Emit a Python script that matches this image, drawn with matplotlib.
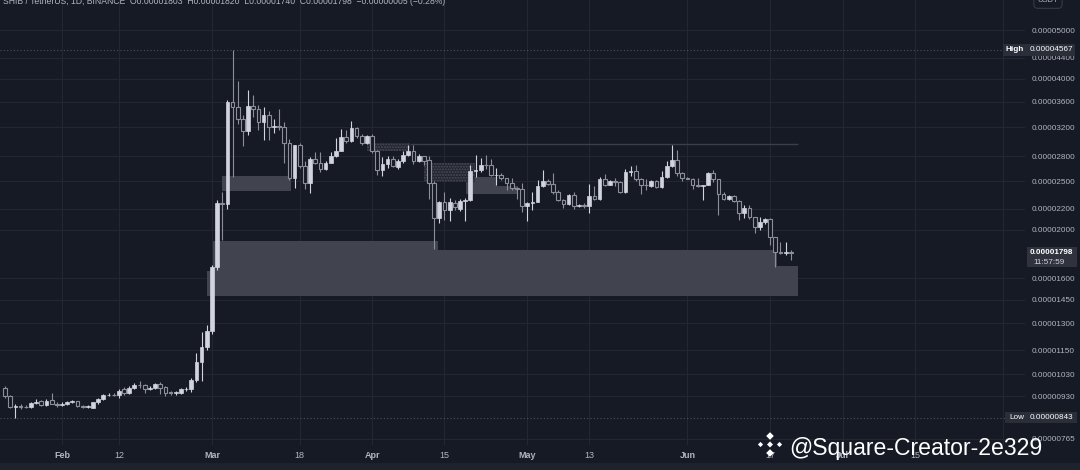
import numpy as np
import pandas as pd
import matplotlib
matplotlib.use("Agg")
import matplotlib.pyplot as plt
from matplotlib.patches import Rectangle, Polygon
from matplotlib.ticker import NullLocator

# ---- data (prices in units of 1e-8 USDT) ----
START = "2024-01-21"
UNIT = 1e-8

opens = [966, 930, 885, 889, 887, 884, 902, 910, 893, 916,
         900, 895, 900, 905, 910, 888, 886, 883, 905, 920,
         935, 938, 935, 961, 945, 968, 980, 982, 962, 967,
         985, 970, 947, 945, 945, 960, 963, 1002, 1088, 1166,
         1255, 1683, 2259, 2250, 3590, 3505, 3318, 3145, 3527, 3480,
         3280, 3385, 3205, 3215, 3210, 2980, 2537, 2948, 2676, 2480,
         2772, 2718, 2647, 2717, 2803, 2869, 3053, 3003, 3190, 3072,
         2972, 3072, 2869, 2629, 2700, 2772, 2668, 2739, 2816, 2873,
         2742, 2803, 2752, 2473, 2105, 2266, 2188, 2260, 2200, 2280,
         2290, 2617, 2629, 2690, 2688, 2570, 2575, 2530, 2480, 2418,
         2405, 2230, 2255, 2275, 2442, 2503, 2465, 2380, 2290, 2245,
         2340, 2225, 2240, 2228, 2330, 2300, 2522, 2455, 2503, 2490,
         2380, 2608, 2612, 2525, 2455, 2440, 2503, 2430, 2550, 2676,
         2752, 2590, 2540, 2525, 2460, 2445, 2455, 2595, 2520, 2360,
         2300, 2330, 2282, 2155, 2212, 2115, 2025, 2070, 2096, 1929,
         1807, 1800, 1803]
highs = [975, 935, 900, 898, 895, 908, 920, 915, 918, 945,
         905, 906, 910, 915, 912, 895, 892, 908, 925, 940,
         945, 946, 960, 970, 975, 990, 997, 985, 975, 990,
         995, 975, 955, 952, 965, 970, 1010, 1135, 1250, 1290,
         1700, 2290, 2375, 3620, 4567, 3960, 3385, 3796, 3710, 3545,
         3510, 3450, 3330, 3480, 3280, 3030, 2950, 2975, 2740, 2790,
         2860, 2860, 2735, 2860, 3045, 3175, 3160, 3300, 3210, 3100,
         3090, 3100, 2880, 2790, 2800, 2800, 2760, 2870, 2948, 2948,
         2830, 2810, 2800, 2500, 2280, 2380, 2310, 2290, 2300, 2310,
         2690, 2816, 2780, 2816, 2770, 2650, 2590, 2540, 2535, 2430,
         2473, 2270, 2380, 2510, 2629, 2520, 2590, 2395, 2300, 2350,
         2375, 2250, 2260, 2467, 2442, 2552, 2580, 2515, 2540, 2495,
         2640, 2680, 2690, 2540, 2520, 2515, 2510, 2617, 2740, 2948,
         2882, 2600, 2545, 2530, 2530, 2460, 2610, 2630, 2525, 2375,
         2340, 2340, 2290, 2240, 2240, 2120, 2120, 2110, 2110, 1935,
         1890, 1890, 1820]
lows = [925, 880, 843, 878, 880, 880, 898, 890, 890, 900,
        885, 890, 896, 902, 885, 882, 880, 880, 900, 915,
        930, 930, 925, 935, 940, 962, 965, 945, 958, 962,
        940, 930, 935, 935, 940, 952, 950, 995, 1000, 1150,
        1240, 1661, 1906, 2200, 2550, 3250, 2935, 3087, 3350, 3159,
        3017, 3017, 3120, 3160, 2712, 2510, 2420, 2650, 2410, 2370,
        2700, 2600, 2630, 2710, 2790, 2865, 2980, 2990, 3040, 2950,
        2960, 2840, 2570, 2560, 2650, 2660, 2640, 2720, 2800, 2700,
        2730, 2690, 2300, 1833, 2060, 2095, 2080, 2190, 2180, 2085,
        2280, 2550, 2600, 2640, 2560, 2460, 2510, 2398, 2400, 2300,
        2170, 2080, 2190, 2270, 2430, 2450, 2360, 2280, 2210, 2240,
        2200, 2215, 2205, 2160, 2290, 2290, 2440, 2450, 2440, 2370,
        2370, 2560, 2500, 2350, 2400, 2430, 2420, 2420, 2540, 2660,
        2560, 2500, 2520, 2410, 2430, 2290, 2450, 2490, 2138, 2290,
        2290, 2270, 2090, 2110, 2100, 1970, 2000, 2050, 1861, 1687,
        1790, 1780, 1740]
closes = [930, 885, 889, 887, 886, 902, 907, 893, 912, 900,
          895, 900, 905, 910, 888, 887, 888, 905, 920, 935,
          938, 936, 955, 945, 968, 982, 978, 960, 968, 985,
          967, 945, 945, 946, 960, 963, 1002, 1088, 1166, 1255,
          1683, 2259, 2250, 3590, 3505, 3318, 3145, 3527, 3480, 3280,
          3385, 3205, 3225, 3210, 2980, 2537, 2948, 2676, 2480, 2772,
          2718, 2647, 2717, 2803, 2869, 3053, 3003, 3190, 3072, 2972,
          3072, 2869, 2629, 2700, 2772, 2676, 2739, 2816, 2873, 2742,
          2803, 2742, 2473, 2105, 2266, 2188, 2266, 2215, 2280, 2290,
          2617, 2629, 2690, 2688, 2570, 2575, 2530, 2473, 2418, 2405,
          2230, 2255, 2275, 2442, 2503, 2465, 2380, 2290, 2245, 2340,
          2225, 2240, 2228, 2330, 2300, 2522, 2455, 2503, 2490, 2380,
          2608, 2612, 2525, 2455, 2450, 2503, 2430, 2550, 2676, 2752,
          2590, 2540, 2525, 2460, 2445, 2455, 2595, 2520, 2360, 2300,
          2330, 2282, 2155, 2212, 2115, 2025, 2070, 2096, 1929, 1807,
          1800, 1803, 1798]

tick_dates = ["2024-02-01", "2024-02-12", "2024-03-01", "2024-03-18",
              "2024-04-01", "2024-04-15", "2024-05-01", "2024-05-13",
              "2024-06-01", "2024-06-17", "2024-07-01", "2024-07-15",
              "2024-08-01"]
tick_labels = ["Feb", "12", "Mar", "18", "Apr", "15", "May", "13",
               "Jun", "17", "Jul", "15", ""]
month_labels = {"Feb", "Mar", "Apr", "May", "Jun", "Jul"}

price_ticks = [5000, 4400, 4000, 3600, 3200, 2800, 2500, 2200, 2000,
               1600, 1450, 1300, 1150, 1030, 930, 765]

# zones: (start day, end day, low, high) -- day index from START
solid_zones = [(39.0, 40.2, 1474, 1653),
               (40.2, 83.8, 1474, 1897),
               (83.8, 149.3, 1474, 1821),
               (149.3, 153.4, 1474, 1691),
               (42.0, 55.3, 2387, 2557),
               (89.2, 95.2, 2354, 2545),
               (95.2, 99.2, 2354, 2442)]
dotted_zones = [(70.0, 78.3, 2869, 2976),
                (81.0, 90.9, 2488, 2714)]
level_line = (78.3, 153.4, 2963)

HIGH = 4567
LOW = 843
LAST = 1798
header = ("SHIB / TetherUS, 1D, BINANCE  O0.00001803  H0.00001820  "
          "L0.00001740  C0.00001798  \u22120.00000005 (\u22120.28%)")

# ---- style ----
BG = "#161a25"
BULL = "#d1d4dc"
BEAR = "#8c8f99"
TXT = "#b2b5be"
ZONE = "#41434e"
plt.rcParams["font.family"] = ["Liberation Sans", "DejaVu Sans"]

W, H = 1080, 470
fig = plt.figure(figsize=(W / 100, H / 100), dpi=100)
fig.patch.set_facecolor(BG)
ax = fig.add_axes([0, 25 / H, 1025 / W, 445 / H])
ax.set_facecolor(BG)
for s in ax.spines.values():
    s.set_visible(False)

o = np.array(opens) * UNIT
h = np.array(highs) * UNIT
l = np.array(lows) * UNIT
c = np.array(closes) * UNIT
x = np.arange(len(o))
up = c >= o

ax.set_yscale("log")
ax.set_ylim(744e-8, 5739e-8)
ax.set_xlim(-0.99, 197.3)

# zones
for x0, x1, lo, hi in solid_zones:
    ax.add_patch(Rectangle((x0, lo * UNIT), x1 - x0, (hi - lo) * UNIT,
                           facecolor=ZONE, edgecolor="none", zorder=1))
for x0, x1, lo, hi in dotted_zones:
    ax.add_patch(Rectangle((x0, lo * UNIT), x1 - x0, (hi - lo) * UNIT,
                           facecolor="#232631", edgecolor="#4a4d58",
                           hatch="......", lw=0, zorder=1))
ax.hlines(level_line[2] * UNIT, level_line[0], level_line[1],
          color="#3b3e49", lw=1.0, zorder=1)

# high / low dotted lines
for lvl in (HIGH, LOW):
    ax.axhline(lvl * UNIT, color="#4f525d", lw=0.8, ls=(0, (1, 2)), zorder=1)

# candles
ax.vlines(x[up], l[up], h[up], color=BULL, lw=0.8, zorder=3)
ax.vlines(x[~up], l[~up], h[~up], color=BEAR, lw=0.8, zorder=3)
bottom = np.minimum(o, c)
height = np.maximum(np.abs(c - o), bottom * 0.002)
ax.bar(x[up], height[up], bottom=bottom[up], width=0.72, color=BULL,
       edgecolor=BULL, lw=0.5, zorder=4)
ax.bar(x[~up], height[~up], bottom=bottom[~up], width=0.72, color=BG,
       edgecolor=BEAR, lw=0.8, zorder=4)

# axes / ticks
start = pd.Timestamp(START)
tick_idx = [(pd.Timestamp(d) - start).days for d in tick_dates]
ax.set_xticks(tick_idx)
ax.set_xticklabels(tick_labels)
for lab in ax.get_xticklabels():
    if lab.get_text() in month_labels:
        lab.set_fontweight("bold")
ax.tick_params(axis="x", length=0, pad=4, labelsize=6.5, labelcolor=TXT)

ax.yaxis.tick_right()
ax.set_yticks([p * UNIT for p in price_ticks])
ax.set_yticklabels([f"{p * UNIT:.8f}" for p in price_ticks])
ax.yaxis.set_minor_locator(NullLocator())
ax.tick_params(axis="y", length=0, pad=5, labelsize=5.9, labelcolor=TXT)
ax.grid(True, color="#242833", lw=0.7)
ax.set_axisbelow(True)

# price labels on right scale
ytr = ax.get_yaxis_transform()


def price_tag(val, x0, x1, up_px, dn_px, color):
    top = val * UNIT * 10 ** (up_px / 501.6)
    bot = val * UNIT / 10 ** (dn_px / 501.6)
    ax.add_patch(Rectangle((x0, bot), x1 - x0, top - bot, transform=ytr,
                           facecolor=color, edgecolor="none",
                           clip_on=False, zorder=6))


price_tag(HIGH, 1003 / 1025, 1075 / 1025, 6, 6, "#2a2e39")
ax.text(1006 / 1025, HIGH * UNIT, "High", transform=ytr, ha="left",
        va="center", fontsize=5.9, color="white", fontweight="bold", zorder=7)
ax.text(1073 / 1025, HIGH * UNIT, f"{HIGH * UNIT:.8f}", transform=ytr,
        ha="right", va="center", fontsize=5.9, color="white", zorder=7)

price_tag(LOW, 1005 / 1025, 1077 / 1025, 5.5, 5.5, "#2a2e39")
ax.text(1009 / 1025, LOW * UNIT, "Low", transform=ytr, ha="left",
        va="center", fontsize=5.9, color="white", zorder=7)
ax.text(1073 / 1025, LOW * UNIT, f"{LOW * UNIT:.8f}", transform=ytr,
        ha="right", va="center", fontsize=5.9, color="white", zorder=7)

price_tag(LAST, 1027 / 1025, 1077 / 1025, 6, 14, "#30333e")
ax.text(1073 / 1025, LAST * UNIT, f"{LAST * UNIT:.8f}", transform=ytr,
        ha="right", va="center", fontsize=5.9, color="white",
        fontweight="bold", zorder=7)
ax.text(1033 / 1025, LAST * UNIT / 10 ** (9.5 / 501.6), "11:57:59",
        transform=ytr, ha="left", va="center", fontsize=5.9,
        color="#d1d4dc", zorder=7)

# header (cut off at top like the screenshot)
fig.text(3 / W, 1 - 3.5 / H, header, fontsize=6.2, color=TXT, va="baseline")
fig.text(1048 / W, 1 - 1 / H, "USDT", fontsize=5.5, color=TXT,
         ha="center", va="center",
         bbox=dict(boxstyle="round,pad=0.5", fc=BG, ec="#363a45", lw=0.8))

# bottom strip
fig.add_artist(Rectangle((0, 0), 1, 7 / H, transform=fig.transFigure,
                         facecolor="#1e222d", edgecolor="none"))

# watermark
def diamond(cx, cy, r):
    pts = [(cx, cy - r), (cx + r, cy), (cx, cy + r), (cx - r, cy)]
    pts = [(px / W, 1 - py / H) for px, py in pts]
    fig.add_artist(Polygon(pts, closed=True, transform=fig.transFigure,
                           facecolor="white", edgecolor="none", zorder=10))


for cx, cy, r in [(770, 436, 3.8), (760.5, 444.5, 2.6), (779.5, 444.5, 2.6),
                  (770, 444.5, 3.0), (770, 453, 3.8)]:
    diamond(cx, cy, r)
fig.text(789 / W, 1 - 455 / H, "@Square-Creator-2e329", fontsize=16.6,
         color="white", va="baseline", zorder=10)

fig.savefig("out.png", dpi=100, facecolor=BG)
